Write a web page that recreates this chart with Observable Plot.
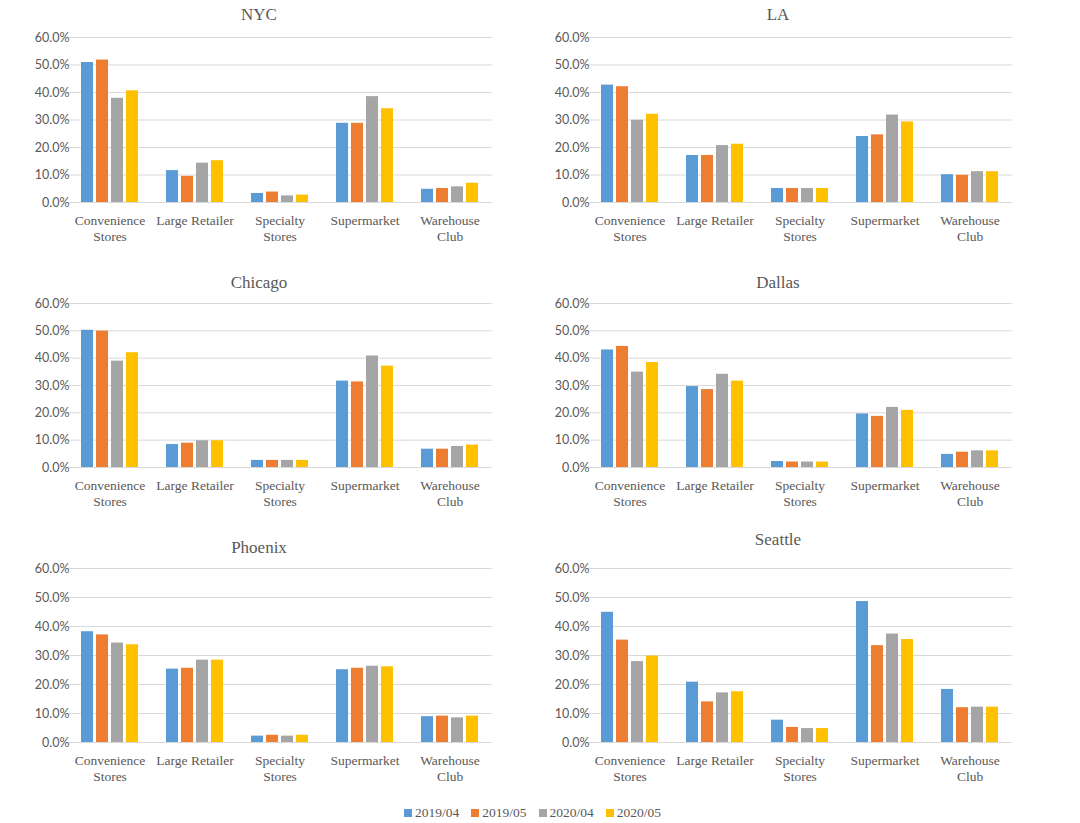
<!DOCTYPE html>
<html>
<head>
<meta charset="utf-8">
<script src="https://cdn.jsdelivr.net/npm/d3@7"></script>
<script src="https://cdn.jsdelivr.net/npm/@observablehq/plot@0.6"></script>
<style>
  body { margin: 0; background: #fff; }
  #root { position: relative; width: 1080px; height: 823px; overflow: hidden; }
  .title { position: absolute; font-family: "Liberation Serif", "Times New Roman", serif; font-size: 17px; font-weight: normal; color: #595959; transform: translate(-50%, -50%); white-space: nowrap; }
  .panel { position: absolute; }
  #legend { position: absolute; top: 796px; left: 404px; }
  #legend .lg-swatch { margin-right: 12px !important; }
  #legend .lg-swatch svg { margin-right: 3px !important; }
</style>
</head>
<body>
<div id="root"><div id="legend"></div></div>
<script>
// ---------- data ----------
const categories = ["Convenience Stores", "Large Retailer", "Specialty Stores", "Supermarket", "Warehouse Club"];
const categoryLabels = ["Convenience\nStores", "Large Retailer", "Specialty\nStores", "Supermarket", "Warehouse\nClub"];
const series = ["2019/04", "2019/05", "2020/04", "2020/05"];
const seriesColors = ["#5B9BD5", "#ED7D31", "#A5A5A5", "#FFC000"];
const yTicks = [0, 10, 20, 30, 40, 50, 60];
const cities = ["NYC", "LA", "Chicago", "Dallas", "Phoenix", "Seattle"];

// percent values: one row per category, one column per series
const nycValues = [
  [50.9, 51.8, 37.9, 40.6],
  [11.6, 9.5, 14.3, 15.2],
  [3.3, 3.8, 2.4, 2.7],
  [28.8, 28.8, 38.5, 34.1],
  [4.8, 5.1, 5.7, 7.0]
];
const laValues = [
  [42.7, 42.1, 29.9, 32.1],
  [17.1, 17.1, 20.7, 21.2],
  [5.1, 5.1, 5.1, 5.1],
  [24.0, 24.6, 31.8, 29.3],
  [10.1, 9.9, 11.2, 11.2]
];
const chicagoValues = [
  [50.2, 49.9, 38.9, 42.0],
  [8.4, 8.9, 9.8, 9.8],
  [2.6, 2.6, 2.6, 2.6],
  [31.6, 31.3, 40.8, 37.1],
  [6.7, 6.7, 7.7, 8.2]
];
const dallasValues = [
  [43.0, 44.3, 34.9, 38.4],
  [29.6, 28.5, 34.1, 31.6],
  [2.2, 2.0, 2.0, 2.0],
  [19.6, 18.7, 22.0, 20.9],
  [4.8, 5.6, 6.1, 6.1]
];
const phoenixValues = [
  [38.2, 37.1, 34.3, 33.7],
  [25.3, 25.6, 28.4, 28.4],
  [2.2, 2.5, 2.2, 2.5],
  [25.1, 25.6, 26.3, 26.1],
  [8.9, 9.1, 8.5, 9.1]
];
const seattleValues = [
  [44.9, 35.3, 27.9, 29.8],
  [20.8, 14.0, 17.1, 17.5],
  [7.7, 5.2, 4.8, 4.8],
  [48.6, 33.4, 37.4, 35.5],
  [18.3, 12.0, 12.2, 12.2]
];
const cityValues = [nycValues, laValues, chicagoValues, dallasValues, phoenixValues, seattleValues];

// ---------- layout ----------
const serif = '"Liberation Serif", "Times New Roman", serif';
const sans = 'Lato, "Open Sans", sans-serif';
const cols = [
  {left: 0, marginLeft: 65, marginRight: 47, titleX: 259},
  {left: 540, marginLeft: 45, marginRight: 67, titleX: 778}
];
const rows = [
  {top: 27, plotH: 165, titleY: [15, 15]},
  {top: 293, plotH: 164, titleY: [283, 283]},
  {top: 558, plotH: 174, titleY: [548, 540]}
];
const marginTop = 10, marginBottom = 46, panelW = 540;
const fxPad = 0.31;

const root = document.getElementById("root");

cities.forEach((city, i) => {
  const col = cols[i % 2], row = rows[Math.floor(i / 2)];
  const vals = cityValues[i];
  const data = [];
  categories.forEach((c, ci) => series.forEach((s, si) => data.push({category: c, series: s, value: vals[ci][si]})));

  const innerW = panelW - col.marginLeft - col.marginRight;
  const step = innerW / categories.length;
  const halfGap = step * fxPad / 2;

  const chart = Plot.plot({
    width: panelW,
    height: marginTop + row.plotH + marginBottom,
    marginTop, marginBottom,
    marginLeft: col.marginLeft, marginRight: col.marginRight,
    style: {background: "transparent", color: "#595959", overflow: "visible"},
    y: {domain: [0, 60]},
    x: {domain: series, paddingInner: 0.22, paddingOuter: 0, axis: null},
    fx: {domain: categories, paddingInner: fxPad, paddingOuter: fxPad / 2},
    color: {domain: series, range: seriesColors},
    marks: [
      Plot.gridY(yTicks, {stroke: "#d9d9d9", strokeOpacity: 1, strokeWidth: 1, insetLeft: -halfGap, insetRight: -halfGap}),
      Plot.barY(data, {fx: "category", x: "series", y: "value", fill: "series"}),
      Plot.axisY(yTicks, {tickSize: 0, tickPadding: 11, tickFormat: d => d.toFixed(1) + "%", fontFamily: sans, fontSize: 12.5, fill: "#595959", label: null}),
      Plot.axisFx({anchor: "bottom", tickSize: 0, tickPadding: 11, tickFormat: d => categoryLabels[categories.indexOf(d)], fontFamily: serif, fontSize: 13.5, lineHeight: 1.2, fill: "#595959", label: null})
    ]
  });
  chart.classList.add("panel");
  chart.style.left = col.left + "px";
  chart.style.top = row.top + "px";
  root.appendChild(chart);

  const t = document.createElement("div");
  t.className = "title";
  t.textContent = city;
  t.style.left = col.titleX + "px";
  t.style.top = row.titleY[i % 2] + "px";
  root.appendChild(t);
});

const legend = Plot.legend({
  color: {domain: series, range: seriesColors},
  legend: "swatches",
  className: "lg",
  swatchSize: 8,
  style: {fontFamily: serif, fontSize: "13.5px", color: "#595959"}
});
document.getElementById("legend").appendChild(legend);
</script>
</body>
</html>
